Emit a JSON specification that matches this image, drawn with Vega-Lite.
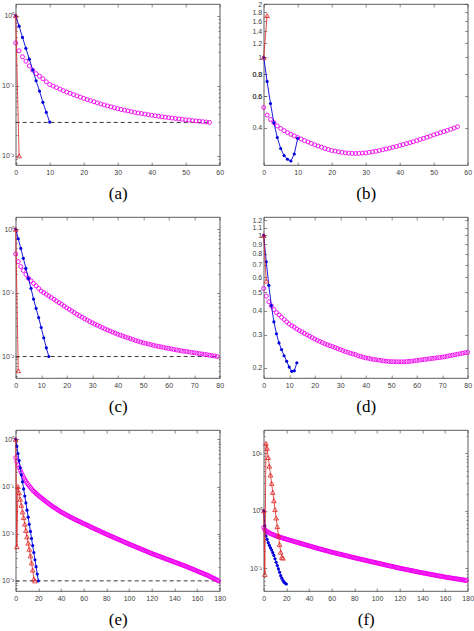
{
"$schema":"https://vega.github.io/schema/vega-lite/v6.json",
"autosize":{"type":"none"},
"padding":{"left":15.7,"top":4,"right":458.3,"bottom":627},
"background":"white",
"config":{"view":{"stroke":"#333333","strokeWidth":0.8},
 "axis":{"labelFont":"Liberation Sans","labelFontSize":7,"labelColor":"#404040","tickColor":"#404040","tickWidth":0.6,"tickCount":60,"domain":false,"grid":false,"labelFlush":false,"labelOverlap":false,"titleFont":"Liberation Serif","titleFontSize":17,"titleFontWeight":"normal","titleColor":"#000000"}},
"datasets":{
"ad":[{"x":0,"x2":57,"y":0.03}],
"cd":[{"x":0,"x2":80,"y":0.01}],
"ed":[{"x":0,"x2":180,"y":0.001}],
"ar":[{"x":0,"y":1},{"x":1,"y":0.01}],
"br":[{"x":0,"y":1},{"x":1,"y":1.72}],
"cr":[{"x":0,"y":1},{"x":1,"y":0.006}],
"dr":[{"x":0,"y":1},{"x":1,"y":0.574}],
"er":[{"x":0,"y":1},{"x":1,"y":0.0053},{"x":2,"y":0.1},{"x":3,"y":0.074},{"x":4,"y":0.054},{"x":5,"y":0.04},{"x":6,"y":0.029},{"x":7,"y":0.022},{"x":8,"y":0.016},{"x":9,"y":0.0117},{"x":10,"y":0.0086},{"x":11,"y":0.0063},{"x":12,"y":0.0047},{"x":13,"y":0.0034},{"x":14,"y":0.0024},{"x":15,"y":0.0017},{"x":16,"y":0.0011},{"x":17,"y":0.001}],
"fr":[{"x":0,"y":1},{"x":1,"y":0.078},{"x":2,"y":15},{"x":3,"y":12.3},{"x":4,"y":8.5},{"x":5,"y":6.0},{"x":6,"y":4.2},{"x":7,"y":3.0},{"x":8,"y":2.1},{"x":9,"y":1.5},{"x":10,"y":1.05},{"x":11,"y":0.75},{"x":12,"y":0.53},{"x":13,"y":0.37},{"x":14,"y":0.26},{"x":15,"y":0.19},{"x":16,"y":0.155},{"x":17,"y":0.15}],
"ab":[{"x":0,"y":1},{"x":1,"y":0.71},{"x":2,"y":0.49},{"x":3,"y":0.342},{"x":4,"y":0.24},{"x":5,"y":0.168},{"x":6,"y":0.118},{"x":7,"y":0.084},{"x":8,"y":0.058},{"x":9,"y":0.0417},{"x":10,"y":0.0303}],
"bb":[{"x":0,"y":1},{"x":1,"y":0.73},{"x":2,"y":0.547},{"x":3,"y":0.426},{"x":4,"y":0.352},{"x":5,"y":0.305},{"x":6,"y":0.278},{"x":7,"y":0.265},{"x":8,"y":0.259},{"x":9,"y":0.284},{"x":10,"y":0.348}],
"cb":[{"x":0,"y":1},{"x":1,"y":0.71},{"x":2,"y":0.5},{"x":3,"y":0.35},{"x":4,"y":0.243},{"x":5,"y":0.169},{"x":6,"y":0.118},{"x":7,"y":0.08},{"x":8,"y":0.057},{"x":9,"y":0.041},{"x":10,"y":0.0286},{"x":11,"y":0.0197},{"x":12,"y":0.0137},{"x":13,"y":0.01}],
"db":[{"x":0,"y":1},{"x":1,"y":0.726},{"x":2,"y":0.545},{"x":3,"y":0.427},{"x":4,"y":0.35},{"x":5,"y":0.303},{"x":6,"y":0.271},{"x":7,"y":0.25},{"x":8,"y":0.232},{"x":9,"y":0.217},{"x":10,"y":0.202},{"x":11,"y":0.192},{"x":12,"y":0.193},{"x":13,"y":0.213}],
"eb":[{"x":0,"y":1},{"x":1,"y":0.71},{"x":2,"y":0.5},{"x":3,"y":0.355},{"x":4,"y":0.25},{"x":5,"y":0.178},{"x":6,"y":0.126},{"x":7,"y":0.089},{"x":8,"y":0.063},{"x":9,"y":0.045},{"x":10,"y":0.0316},{"x":11,"y":0.0224},{"x":12,"y":0.0158},{"x":13,"y":0.0112},{"x":14,"y":0.0079},{"x":15,"y":0.0056},{"x":16,"y":0.004},{"x":17,"y":0.0028},{"x":18,"y":0.002},{"x":19,"y":0.0014},{"x":20,"y":0.001}],
"fb":[{"x":0,"y":1},{"x":1,"y":0.545},{"x":2,"y":0.364},{"x":3,"y":0.318},{"x":4,"y":0.278},{"x":5,"y":0.25},{"x":6,"y":0.227},{"x":7,"y":0.207},{"x":8,"y":0.186},{"x":9,"y":0.167},{"x":10,"y":0.146},{"x":11,"y":0.127},{"x":12,"y":0.111},{"x":13,"y":0.097},{"x":14,"y":0.085},{"x":15,"y":0.074},{"x":16,"y":0.067},{"x":17,"y":0.061},{"x":18,"y":0.057},{"x":19,"y":0.0546},{"x":20,"y":0.053}],
"am":[{"x":0,"y":0.41},{"x":1,"y":0.316},{"x":2,"y":0.259},{"x":3,"y":0.224},{"x":4,"y":0.192},{"x":5,"y":0.167},{"x":6,"y":0.149},{"x":7,"y":0.137},{"x":8,"y":0.126},{"x":9,"y":0.114},{"x":10,"y":0.104},{"x":11,"y":0.099},{"x":12,"y":0.0942},{"x":13,"y":0.0897},{"x":14,"y":0.0853},{"x":15,"y":0.0813},{"x":16,"y":0.078},{"x":17,"y":0.0748},{"x":18,"y":0.0718},{"x":19,"y":0.0689},{"x":20,"y":0.0661},{"x":21,"y":0.0637},{"x":22,"y":0.0614},{"x":23,"y":0.0592},{"x":24,"y":0.057},{"x":25,"y":0.055},{"x":26,"y":0.0533},{"x":27,"y":0.0516},{"x":28,"y":0.0501},{"x":29,"y":0.0486},{"x":30,"y":0.0471},{"x":31,"y":0.0459},{"x":32,"y":0.0449},{"x":33,"y":0.0438},{"x":34,"y":0.0428},{"x":35,"y":0.0417},{"x":36,"y":0.0409},{"x":37,"y":0.0402},{"x":38,"y":0.0394},{"x":39,"y":0.0387},{"x":40,"y":0.038},{"x":41,"y":0.0374},{"x":42,"y":0.0368},{"x":43,"y":0.0362},{"x":44,"y":0.0356},{"x":45,"y":0.0351},{"x":46,"y":0.0346},{"x":47,"y":0.0341},{"x":48,"y":0.0337},{"x":49,"y":0.0332},{"x":50,"y":0.0327},{"x":51,"y":0.0324},{"x":52,"y":0.0319},{"x":53,"y":0.0315},{"x":54,"y":0.0311},{"x":55,"y":0.0308},{"x":56,"y":0.0304},{"x":57,"y":0.03}],
"bm":[{"x":0,"y":0.52},{"x":1,"y":0.471},{"x":2,"y":0.445},{"x":3,"y":0.427},{"x":4,"y":0.409},{"x":5,"y":0.396},{"x":6,"y":0.385},{"x":7,"y":0.375},{"x":8,"y":0.367},{"x":9,"y":0.359},{"x":10,"y":0.352},{"x":11,"y":0.345},{"x":12,"y":0.338},{"x":13,"y":0.332},{"x":14,"y":0.326},{"x":15,"y":0.32},{"x":16,"y":0.315},{"x":17,"y":0.31},{"x":18,"y":0.305},{"x":19,"y":0.301},{"x":20,"y":0.297},{"x":21,"y":0.295},{"x":22,"y":0.292},{"x":23,"y":0.29},{"x":24,"y":0.288},{"x":25,"y":0.287},{"x":26,"y":0.286},{"x":27,"y":0.286},{"x":28,"y":0.286},{"x":29,"y":0.287},{"x":30,"y":0.288},{"x":31,"y":0.29},{"x":32,"y":0.292},{"x":33,"y":0.294},{"x":34,"y":0.297},{"x":35,"y":0.3},{"x":36,"y":0.303},{"x":37,"y":0.306},{"x":38,"y":0.31},{"x":39,"y":0.313},{"x":40,"y":0.317},{"x":41,"y":0.321},{"x":42,"y":0.325},{"x":43,"y":0.329},{"x":44,"y":0.333},{"x":45,"y":0.338},{"x":46,"y":0.343},{"x":47,"y":0.348},{"x":48,"y":0.353},{"x":49,"y":0.358},{"x":50,"y":0.364},{"x":51,"y":0.369},{"x":52,"y":0.375},{"x":53,"y":0.38},{"x":54,"y":0.386},{"x":55,"y":0.392},{"x":56,"y":0.398},{"x":57,"y":0.405}],
"cm":[{"x":0,"y":0.41},{"x":1,"y":0.31},{"x":2,"y":0.26},{"x":3,"y":0.225},{"x":4,"y":0.195},{"x":5,"y":0.17},{"x":6,"y":0.155},{"x":7,"y":0.141},{"x":8,"y":0.129},{"x":9,"y":0.1175},{"x":10,"y":0.107},{"x":11,"y":0.101},{"x":12,"y":0.0951},{"x":13,"y":0.0895},{"x":14,"y":0.0843},{"x":15,"y":0.0794},{"x":16,"y":0.0747},{"x":17,"y":0.0702},{"x":18,"y":0.0661},{"x":19,"y":0.0621},{"x":20,"y":0.0583},{"x":21,"y":0.0551},{"x":22,"y":0.052},{"x":23,"y":0.049},{"x":24,"y":0.0462},{"x":25,"y":0.0437},{"x":26,"y":0.0415},{"x":27,"y":0.0394},{"x":28,"y":0.0375},{"x":29,"y":0.0356},{"x":30,"y":0.0339},{"x":31,"y":0.0324},{"x":32,"y":0.031},{"x":33,"y":0.0297},{"x":34,"y":0.0284},{"x":35,"y":0.0272},{"x":36,"y":0.0262},{"x":37,"y":0.0252},{"x":38,"y":0.0242},{"x":39,"y":0.0233},{"x":40,"y":0.0224},{"x":41,"y":0.0217},{"x":42,"y":0.021},{"x":43,"y":0.0203},{"x":44,"y":0.0197},{"x":45,"y":0.0191},{"x":46,"y":0.0185},{"x":47,"y":0.0179},{"x":48,"y":0.0174},{"x":49,"y":0.0169},{"x":50,"y":0.0164},{"x":51,"y":0.0161},{"x":52,"y":0.0157},{"x":53,"y":0.0154},{"x":54,"y":0.015},{"x":55,"y":0.0147},{"x":56,"y":0.0144},{"x":57,"y":0.0142},{"x":58,"y":0.0139},{"x":59,"y":0.0136},{"x":60,"y":0.0134},{"x":61,"y":0.0132},{"x":62,"y":0.0129},{"x":63,"y":0.0127},{"x":64,"y":0.0125},{"x":65,"y":0.0123},{"x":66,"y":0.0121},{"x":67,"y":0.012},{"x":68,"y":0.0118},{"x":69,"y":0.0116},{"x":70,"y":0.0115},{"x":71,"y":0.0113},{"x":72,"y":0.0111},{"x":73,"y":0.011},{"x":74,"y":0.0108},{"x":75,"y":0.0107},{"x":76,"y":0.0105},{"x":77,"y":0.0103},{"x":78,"y":0.0102},{"x":79,"y":0.01}],
"dm":[{"x":0,"y":0.525},{"x":1,"y":0.478},{"x":2,"y":0.447},{"x":3,"y":0.425},{"x":4,"y":0.406},{"x":5,"y":0.392},{"x":6,"y":0.381},{"x":7,"y":0.37},{"x":8,"y":0.36},{"x":9,"y":0.35},{"x":10,"y":0.341},{"x":11,"y":0.334},{"x":12,"y":0.328},{"x":13,"y":0.321},{"x":14,"y":0.315},{"x":15,"y":0.31},{"x":16,"y":0.304},{"x":17,"y":0.299},{"x":18,"y":0.294},{"x":19,"y":0.289},{"x":20,"y":0.284},{"x":21,"y":0.28},{"x":22,"y":0.276},{"x":23,"y":0.272},{"x":24,"y":0.268},{"x":25,"y":0.265},{"x":26,"y":0.262},{"x":27,"y":0.259},{"x":28,"y":0.256},{"x":29,"y":0.253},{"x":30,"y":0.25},{"x":31,"y":0.247},{"x":32,"y":0.244},{"x":33,"y":0.242},{"x":34,"y":0.239},{"x":35,"y":0.237},{"x":36,"y":0.235},{"x":37,"y":0.232},{"x":38,"y":0.23},{"x":39,"y":0.228},{"x":40,"y":0.226},{"x":41,"y":0.225},{"x":42,"y":0.223},{"x":43,"y":0.222},{"x":44,"y":0.221},{"x":45,"y":0.22},{"x":46,"y":0.219},{"x":47,"y":0.218},{"x":48,"y":0.217},{"x":49,"y":0.2165},{"x":50,"y":0.216},{"x":51,"y":0.2158},{"x":52,"y":0.2156},{"x":53,"y":0.2155},{"x":54,"y":0.2155},{"x":55,"y":0.2155},{"x":56,"y":0.216},{"x":57,"y":0.2165},{"x":58,"y":0.217},{"x":59,"y":0.218},{"x":60,"y":0.219},{"x":61,"y":0.2198},{"x":62,"y":0.2207},{"x":63,"y":0.2216},{"x":64,"y":0.2225},{"x":65,"y":0.2234},{"x":66,"y":0.2243},{"x":67,"y":0.2252},{"x":68,"y":0.2261},{"x":69,"y":0.227},{"x":70,"y":0.228},{"x":71,"y":0.2293},{"x":72,"y":0.2307},{"x":73,"y":0.232},{"x":74,"y":0.2334},{"x":75,"y":0.2348},{"x":76,"y":0.2362},{"x":77,"y":0.2376},{"x":78,"y":0.239},{"x":79,"y":0.2405},{"x":80,"y":0.242}],
"em":[{"x":0,"y":0.41},{"x":1,"y":0.34},{"x":2,"y":0.29},{"x":3,"y":0.253},{"x":4,"y":0.222},{"x":5,"y":0.196},{"x":6,"y":0.175},{"x":7,"y":0.157},{"x":8,"y":0.142},{"x":9,"y":0.129},{"x":10,"y":0.1175},{"x":11,"y":0.1096},{"x":12,"y":0.1023},{"x":13,"y":0.0955},{"x":14,"y":0.0891},{"x":15,"y":0.0832},{"x":16,"y":0.0791},{"x":17,"y":0.0752},{"x":18,"y":0.0715},{"x":19,"y":0.0679},{"x":20,"y":0.0646},{"x":21,"y":0.0618},{"x":22,"y":0.0592},{"x":23,"y":0.0566},{"x":24,"y":0.0542},{"x":25,"y":0.0519},{"x":26,"y":0.0497},{"x":27,"y":0.0475},{"x":28,"y":0.0455},{"x":29,"y":0.0436},{"x":30,"y":0.0417},{"x":31,"y":0.0402},{"x":32,"y":0.0387},{"x":33,"y":0.0373},{"x":34,"y":0.036},{"x":35,"y":0.0347},{"x":36,"y":0.0334},{"x":37,"y":0.0322},{"x":38,"y":0.031},{"x":39,"y":0.0299},{"x":40,"y":0.0288},{"x":41,"y":0.028},{"x":42,"y":0.0272},{"x":43,"y":0.0264},{"x":44,"y":0.0256},{"x":45,"y":0.0248},{"x":46,"y":0.0241},{"x":47,"y":0.0234},{"x":48,"y":0.0227},{"x":49,"y":0.022},{"x":50,"y":0.0214},{"x":51,"y":0.0208},{"x":52,"y":0.0203},{"x":53,"y":0.0197},{"x":54,"y":0.0192},{"x":55,"y":0.0187},{"x":56,"y":0.0182},{"x":57,"y":0.0178},{"x":58,"y":0.0173},{"x":59,"y":0.0168},{"x":60,"y":0.0164},{"x":61,"y":0.016},{"x":62,"y":0.0156},{"x":63,"y":0.0152},{"x":64,"y":0.0148},{"x":65,"y":0.0144},{"x":66,"y":0.014},{"x":67,"y":0.0136},{"x":68,"y":0.0133},{"x":69,"y":0.0129},{"x":70,"y":0.0126},{"x":71,"y":0.0123},{"x":72,"y":0.012},{"x":73,"y":0.0117},{"x":74,"y":0.0114},{"x":75,"y":0.0111},{"x":76,"y":0.0108},{"x":77,"y":0.0105},{"x":78,"y":0.0103},{"x":79,"y":0.01},{"x":80,"y":0.0098},{"x":81,"y":0.00954},{"x":82,"y":0.00931},{"x":83,"y":0.00909},{"x":84,"y":0.00887},{"x":85,"y":0.00866},{"x":86,"y":0.00845},{"x":87,"y":0.00825},{"x":88,"y":0.00805},{"x":89,"y":0.00786},{"x":90,"y":0.00767},{"x":91,"y":0.00749},{"x":92,"y":0.00731},{"x":93,"y":0.00714},{"x":94,"y":0.00697},{"x":95,"y":0.0068},{"x":96,"y":0.00664},{"x":97,"y":0.00648},{"x":98,"y":0.00632},{"x":99,"y":0.00617},{"x":100,"y":0.00603},{"x":101,"y":0.00589},{"x":102,"y":0.00575},{"x":103,"y":0.00562},{"x":104,"y":0.0055},{"x":105,"y":0.00537},{"x":106,"y":0.00525},{"x":107,"y":0.00513},{"x":108,"y":0.00501},{"x":109,"y":0.0049},{"x":110,"y":0.00479},{"x":111,"y":0.00468},{"x":112,"y":0.00457},{"x":113,"y":0.00447},{"x":114,"y":0.00437},{"x":115,"y":0.00427},{"x":116,"y":0.00417},{"x":117,"y":0.00407},{"x":118,"y":0.00398},{"x":119,"y":0.00389},{"x":120,"y":0.0038},{"x":121,"y":0.00372},{"x":122,"y":0.00365},{"x":123,"y":0.00357},{"x":124,"y":0.0035},{"x":125,"y":0.00343},{"x":126,"y":0.00336},{"x":127,"y":0.00329},{"x":128,"y":0.00322},{"x":129,"y":0.00316},{"x":130,"y":0.00309},{"x":131,"y":0.00303},{"x":132,"y":0.00296},{"x":133,"y":0.0029},{"x":134,"y":0.00284},{"x":135,"y":0.00279},{"x":136,"y":0.00273},{"x":137,"y":0.00267},{"x":138,"y":0.00262},{"x":139,"y":0.00256},{"x":140,"y":0.00251},{"x":141,"y":0.00246},{"x":142,"y":0.00241},{"x":143,"y":0.00236},{"x":144,"y":0.00231},{"x":145,"y":0.00226},{"x":146,"y":0.00222},{"x":147,"y":0.00217},{"x":148,"y":0.00213},{"x":149,"y":0.00208},{"x":150,"y":0.00204},{"x":151,"y":0.002},{"x":152,"y":0.00195},{"x":153,"y":0.00191},{"x":154,"y":0.00186},{"x":155,"y":0.00182},{"x":156,"y":0.00178},{"x":157,"y":0.00174},{"x":158,"y":0.0017},{"x":159,"y":0.00166},{"x":160,"y":0.00162},{"x":161,"y":0.00158},{"x":162,"y":0.00155},{"x":163,"y":0.00151},{"x":164,"y":0.00148},{"x":165,"y":0.00145},{"x":166,"y":0.00141},{"x":167,"y":0.00138},{"x":168,"y":0.00135},{"x":169,"y":0.00132},{"x":170,"y":0.00129},{"x":171,"y":0.00125},{"x":172,"y":0.00122},{"x":173,"y":0.00118},{"x":174,"y":0.00115},{"x":175,"y":0.00112},{"x":176,"y":0.00109},{"x":177,"y":0.00106},{"x":178,"y":0.00103},{"x":179,"y":0.001}],
"fm":[{"x":0,"y":0.51},{"x":1,"y":0.47},{"x":2,"y":0.45},{"x":3,"y":0.435},{"x":4,"y":0.422},{"x":5,"y":0.41},{"x":6,"y":0.402},{"x":7,"y":0.394},{"x":8,"y":0.385},{"x":9,"y":0.378},{"x":10,"y":0.37},{"x":11,"y":0.3645},{"x":12,"y":0.359},{"x":13,"y":0.354},{"x":14,"y":0.349},{"x":15,"y":0.344},{"x":16,"y":0.339},{"x":17,"y":0.334},{"x":18,"y":0.3294},{"x":19,"y":0.3247},{"x":20,"y":0.32},{"x":21,"y":0.3157},{"x":22,"y":0.3115},{"x":23,"y":0.3073},{"x":24,"y":0.3032},{"x":25,"y":0.2992},{"x":26,"y":0.2953},{"x":27,"y":0.2914},{"x":28,"y":0.2875},{"x":29,"y":0.2837},{"x":30,"y":0.28},{"x":31,"y":0.2763},{"x":32,"y":0.2726},{"x":33,"y":0.269},{"x":34,"y":0.2654},{"x":35,"y":0.2618},{"x":36,"y":0.2584},{"x":37,"y":0.2549},{"x":38,"y":0.2516},{"x":39,"y":0.2482},{"x":40,"y":0.245},{"x":41,"y":0.2417},{"x":42,"y":0.2386},{"x":43,"y":0.2355},{"x":44,"y":0.2324},{"x":45,"y":0.2293},{"x":46,"y":0.2263},{"x":47,"y":0.2234},{"x":48,"y":0.2205},{"x":49,"y":0.2176},{"x":50,"y":0.2148},{"x":51,"y":0.2122},{"x":52,"y":0.2097},{"x":53,"y":0.207},{"x":54,"y":0.2046},{"x":55,"y":0.2021},{"x":56,"y":0.1996},{"x":57,"y":0.1972},{"x":58,"y":0.1948},{"x":59,"y":0.1924},{"x":60,"y":0.1901},{"x":61,"y":0.188},{"x":62,"y":0.1859},{"x":63,"y":0.1838},{"x":64,"y":0.1818},{"x":65,"y":0.1798},{"x":66,"y":0.1778},{"x":67,"y":0.1758},{"x":68,"y":0.1738},{"x":69,"y":0.1719},{"x":70,"y":0.17},{"x":71,"y":0.1681},{"x":72,"y":0.1662},{"x":73,"y":0.1644},{"x":74,"y":0.1626},{"x":75,"y":0.1608},{"x":76,"y":0.159},{"x":77,"y":0.1572},{"x":78,"y":0.1555},{"x":79,"y":0.1537},{"x":80,"y":0.152},{"x":81,"y":0.1504},{"x":82,"y":0.1488},{"x":83,"y":0.1473},{"x":84,"y":0.1457},{"x":85,"y":0.1442},{"x":86,"y":0.1427},{"x":87,"y":0.1412},{"x":88,"y":0.1397},{"x":89,"y":0.1382},{"x":90,"y":0.1368},{"x":91,"y":0.1353},{"x":92,"y":0.1339},{"x":93,"y":0.1325},{"x":94,"y":0.1311},{"x":95,"y":0.1297},{"x":96,"y":0.1284},{"x":97,"y":0.127},{"x":98,"y":0.1257},{"x":99,"y":0.1244},{"x":100,"y":0.123},{"x":101,"y":0.1218},{"x":102,"y":0.1205},{"x":103,"y":0.1193},{"x":104,"y":0.118},{"x":105,"y":0.1168},{"x":106,"y":0.1156},{"x":107,"y":0.1144},{"x":108,"y":0.1132},{"x":109,"y":0.112},{"x":110,"y":0.1109},{"x":111,"y":0.1098},{"x":112,"y":0.1086},{"x":113,"y":0.1075},{"x":114,"y":0.1064},{"x":115,"y":0.1053},{"x":116,"y":0.1042},{"x":117,"y":0.1031},{"x":118,"y":0.1021},{"x":119,"y":0.101},{"x":120,"y":0.1},{"x":121,"y":0.0991},{"x":122,"y":0.0981},{"x":123,"y":0.0972},{"x":124,"y":0.0963},{"x":125,"y":0.0954},{"x":126,"y":0.0945},{"x":127,"y":0.0937},{"x":128,"y":0.0928},{"x":129,"y":0.0919},{"x":130,"y":0.0911},{"x":131,"y":0.0902},{"x":132,"y":0.0894},{"x":133,"y":0.0886},{"x":134,"y":0.0877},{"x":135,"y":0.0869},{"x":136,"y":0.0861},{"x":137,"y":0.0853},{"x":138,"y":0.0845},{"x":139,"y":0.0838},{"x":140,"y":0.083},{"x":141,"y":0.0823},{"x":142,"y":0.0816},{"x":143,"y":0.0809},{"x":144,"y":0.0802},{"x":145,"y":0.0795},{"x":146,"y":0.0788},{"x":147,"y":0.0782},{"x":148,"y":0.0775},{"x":149,"y":0.0769},{"x":150,"y":0.0762},{"x":151,"y":0.0756},{"x":152,"y":0.0749},{"x":153,"y":0.0743},{"x":154,"y":0.0737},{"x":155,"y":0.073},{"x":156,"y":0.0724},{"x":157,"y":0.0718},{"x":158,"y":0.0712},{"x":159,"y":0.0706},{"x":160,"y":0.07},{"x":161,"y":0.0695},{"x":162,"y":0.069},{"x":163,"y":0.0685},{"x":164,"y":0.068},{"x":165,"y":0.0675},{"x":166,"y":0.067},{"x":167,"y":0.0665},{"x":168,"y":0.066},{"x":169,"y":0.0656},{"x":170,"y":0.0651},{"x":171,"y":0.0646},{"x":172,"y":0.0641},{"x":173,"y":0.0637},{"x":174,"y":0.0632},{"x":175,"y":0.0627},{"x":176,"y":0.0623},{"x":177,"y":0.0618},{"x":178,"y":0.0614},{"x":179,"y":0.061}]
},
"columns":2,
"spacing":{"row":52,"column":44},
"bounds":"flush",
"concat":[
{"width":204,"height":161,"resolve":{"axis":{"x":"independent","y":"independent"}},
 "layer":[
  {"data":{"name":"ad"},"mark":{"type":"rule","color":"#222222","strokeWidth":0.9,"strokeDash":[4,3]},
   "encoding":{"x":{"field":"x","type":"quantitative","scale":{"domain":[0,60],"nice":false,"zero":false},"axis":null},"x2":{"field":"x2"},"y":{"field":"y","type":"quantitative","scale":{"type":"log","domain":[0.0074,1.47],"nice":false},"axis":null}}},
  {"data":{"name":"am"},"mark":{"type":"point","shape":"circle","filled":false,"color":"#f000f0","size":16,"strokeWidth":0.9,"opacity":1},
   "encoding":{"x":{"field":"x","type":"quantitative","scale":{"domain":[0,60],"nice":false,"zero":false},"axis":{"orient":"bottom","offset":-3,"tickSize":3,"tickCount":60,"labelPadding":3,"labelOverlap":false,"values":[0,10,20,30,40,50,60],"title":"(a)","titlePadding":10}},
    "y":{"field":"y","type":"quantitative","scale":{"type":"log","domain":[0.0074,1.47],"nice":false},"axis":{"orient":"left","offset":-3,"tickSize":3,"tickCount":60,"labelPadding":2,"labelOverlap":false,"values":[0.01,0.1,1],"labelExpr":"datum.value < 0.0015 ? '10⁻³' : datum.value < 0.015 ? '10⁻²' : datum.value < 0.15 ? '10⁻¹' : datum.value < 1.5 ? '10⁰' : '10¹'","title":null}}}},
  {"data":{"name":"ab"},"mark":{"type":"line","color":"#0000dd","strokeWidth":0.9},
   "encoding":{"x":{"field":"x","type":"quantitative","scale":{"domain":[0,60],"nice":false,"zero":false},"axis":{"orient":"top","offset":-3,"tickSize":3,"tickCount":60,"labels":false,"values":[0,10,20,30,40,50,60],"title":null}},
    "y":{"field":"y","type":"quantitative","scale":{"type":"log","domain":[0.0074,1.47],"nice":false},"axis":{"orient":"right","offset":-3,"tickSize":3,"tickCount":60,"labels":false,"values":[0.01,0.1,1],"title":null}}}},
  {"data":{"name":"ab"},"mark":{"type":"point","shape":"circle","filled":true,"color":"#0000dd","size":10,"opacity":1},
   "encoding":{"x":{"field":"x","type":"quantitative","scale":{"domain":[0,60],"nice":false,"zero":false},"axis":null},
    "y":{"field":"y","type":"quantitative","scale":{"type":"log","domain":[0.0074,1.47],"nice":false},"axis":{"orient":"left","offset":-1.5,"tickSize":1.5,"tickCount":60,"labels":false,"values":[0.008,0.009,0.02,0.03,0.04,0.05,0.06,0.07,0.08,0.09,0.2,0.3,0.4,0.5,0.6,0.7,0.8,0.9],"title":null}}}},
  {"data":{"name":"ar"},"mark":{"type":"line","color":"#e02020","strokeWidth":0.8},
   "encoding":{"x":{"field":"x","type":"quantitative","scale":{"domain":[0,60],"nice":false,"zero":false},"axis":null},
    "y":{"field":"y","type":"quantitative","scale":{"type":"log","domain":[0.0074,1.47],"nice":false},"axis":{"orient":"right","offset":-1.5,"tickSize":1.5,"tickCount":60,"labels":false,"values":[0.008,0.009,0.02,0.03,0.04,0.05,0.06,0.07,0.08,0.09,0.2,0.3,0.4,0.5,0.6,0.7,0.8,0.9],"title":null}}}},
  {"data":{"name":"ar"},"mark":{"type":"point","shape":"triangle-up","filled":false,"color":"#e02020","size":22,"strokeWidth":0.8,"opacity":1},
   "encoding":{"x":{"field":"x","type":"quantitative","scale":{"domain":[0,60],"nice":false,"zero":false},"axis":null},
    "y":{"field":"y","type":"quantitative","scale":{"type":"log","domain":[0.0074,1.47],"nice":false},"axis":null}}}
 ]},
{"width":204,"height":161,"resolve":{"axis":{"x":"independent","y":"independent"}},
 "layer":[
  {"data":{"name":"bm"},"mark":{"type":"point","shape":"circle","filled":false,"color":"#f000f0","size":16,"strokeWidth":0.9,"opacity":1},
   "encoding":{"x":{"field":"x","type":"quantitative","scale":{"domain":[0,60],"nice":false,"zero":false},"axis":{"orient":"bottom","offset":-3,"tickSize":3,"tickCount":60,"labelPadding":3,"labelOverlap":false,"values":[0,10,20,30,40,50,60],"title":"(b)","titlePadding":10}},
    "y":{"field":"y","type":"quantitative","scale":{"type":"log","domain":[0.246,2],"nice":false},"axis":{"orient":"left","offset":-3,"tickSize":3,"tickCount":60,"labelPadding":2,"labelOverlap":false,"values":[0.4,0.6,0.8,1,1.2,1.4,1.6,1.8,2],"labelExpr":"format(datum.value, '~g')","title":null}}}},
  {"data":{"name":"bb"},"mark":{"type":"line","color":"#0000dd","strokeWidth":0.9},
   "encoding":{"x":{"field":"x","type":"quantitative","scale":{"domain":[0,60],"nice":false,"zero":false},"axis":{"orient":"top","offset":-3,"tickSize":3,"tickCount":60,"labels":false,"values":[0,10,20,30,40,50,60],"title":null}},
    "y":{"field":"y","type":"quantitative","scale":{"type":"log","domain":[0.246,2],"nice":false},"axis":{"orient":"right","offset":-3,"tickSize":3,"tickCount":60,"labels":false,"values":[0.4,0.6,0.8,1,1.2,1.4,1.6,1.8,2],"title":null}}}},
  {"data":{"name":"bb"},"mark":{"type":"point","shape":"circle","filled":true,"color":"#0000dd","size":10,"opacity":1},
   "encoding":{"x":{"field":"x","type":"quantitative","scale":{"domain":[0,60],"nice":false,"zero":false},"axis":null},
    "y":{"field":"y","type":"quantitative","scale":{"type":"log","domain":[0.246,2],"nice":false},"axis":{"orient":"left","offset":-3,"tickSize":3,"tickCount":60,"labelPadding":2,"labelOverlap":false,"values":[0.6,0.8],"labelExpr":"format(datum.value, '~g')","title":null}}}},
  {"data":{"name":"br"},"mark":{"type":"line","color":"#e02020","strokeWidth":0.8},
   "encoding":{"x":{"field":"x","type":"quantitative","scale":{"domain":[0,60],"nice":false,"zero":false},"axis":null},
    "y":{"field":"y","type":"quantitative","scale":{"type":"log","domain":[0.246,2],"nice":false},"axis":null}}},
  {"data":{"name":"br"},"mark":{"type":"point","shape":"triangle-up","filled":false,"color":"#e02020","size":22,"strokeWidth":0.8,"opacity":1},
   "encoding":{"x":{"field":"x","type":"quantitative","scale":{"domain":[0,60],"nice":false,"zero":false},"axis":null},
    "y":{"field":"y","type":"quantitative","scale":{"type":"log","domain":[0.246,2],"nice":false},"axis":null}}}
 ]},
{"width":204,"height":161,"resolve":{"axis":{"x":"independent","y":"independent"}},
 "layer":[
  {"data":{"name":"cd"},"mark":{"type":"rule","color":"#222222","strokeWidth":0.9,"strokeDash":[4,3]},
   "encoding":{"x":{"field":"x","type":"quantitative","scale":{"domain":[0,80],"nice":false,"zero":false},"axis":null},"x2":{"field":"x2"},"y":{"field":"y","type":"quantitative","scale":{"type":"log","domain":[0.0046,1.56],"nice":false},"axis":null}}},
  {"data":{"name":"cm"},"mark":{"type":"point","shape":"circle","filled":false,"color":"#f000f0","size":16,"strokeWidth":0.9,"opacity":1},
   "encoding":{"x":{"field":"x","type":"quantitative","scale":{"domain":[0,80],"nice":false,"zero":false},"axis":{"orient":"bottom","offset":-3,"tickSize":3,"tickCount":60,"labelPadding":3,"labelOverlap":false,"values":[0,10,20,30,40,50,60,70,80],"title":"(c)","titlePadding":10}},
    "y":{"field":"y","type":"quantitative","scale":{"type":"log","domain":[0.0046,1.56],"nice":false},"axis":{"orient":"left","offset":-3,"tickSize":3,"tickCount":60,"labelPadding":2,"labelOverlap":false,"values":[0.01,0.1,1],"labelExpr":"datum.value < 0.0015 ? '10⁻³' : datum.value < 0.015 ? '10⁻²' : datum.value < 0.15 ? '10⁻¹' : datum.value < 1.5 ? '10⁰' : '10¹'","title":null}}}},
  {"data":{"name":"cb"},"mark":{"type":"line","color":"#0000dd","strokeWidth":0.9},
   "encoding":{"x":{"field":"x","type":"quantitative","scale":{"domain":[0,80],"nice":false,"zero":false},"axis":{"orient":"top","offset":-3,"tickSize":3,"tickCount":60,"labels":false,"values":[0,10,20,30,40,50,60,70,80],"title":null}},
    "y":{"field":"y","type":"quantitative","scale":{"type":"log","domain":[0.0046,1.56],"nice":false},"axis":{"orient":"right","offset":-3,"tickSize":3,"tickCount":60,"labels":false,"values":[0.01,0.1,1],"title":null}}}},
  {"data":{"name":"cb"},"mark":{"type":"point","shape":"circle","filled":true,"color":"#0000dd","size":10,"opacity":1},
   "encoding":{"x":{"field":"x","type":"quantitative","scale":{"domain":[0,80],"nice":false,"zero":false},"axis":null},
    "y":{"field":"y","type":"quantitative","scale":{"type":"log","domain":[0.0046,1.56],"nice":false},"axis":{"orient":"left","offset":-1.5,"tickSize":1.5,"tickCount":60,"labels":false,"values":[0.005,0.006,0.007,0.008,0.009,0.02,0.03,0.04,0.05,0.06,0.07,0.08,0.09,0.2,0.3,0.4,0.5,0.6,0.7,0.8,0.9],"title":null}}}},
  {"data":{"name":"cr"},"mark":{"type":"line","color":"#e02020","strokeWidth":0.8},
   "encoding":{"x":{"field":"x","type":"quantitative","scale":{"domain":[0,80],"nice":false,"zero":false},"axis":null},
    "y":{"field":"y","type":"quantitative","scale":{"type":"log","domain":[0.0046,1.56],"nice":false},"axis":{"orient":"right","offset":-1.5,"tickSize":1.5,"tickCount":60,"labels":false,"values":[0.005,0.006,0.007,0.008,0.009,0.02,0.03,0.04,0.05,0.06,0.07,0.08,0.09,0.2,0.3,0.4,0.5,0.6,0.7,0.8,0.9],"title":null}}}},
  {"data":{"name":"cr"},"mark":{"type":"point","shape":"triangle-up","filled":false,"color":"#e02020","size":22,"strokeWidth":0.8,"opacity":1},
   "encoding":{"x":{"field":"x","type":"quantitative","scale":{"domain":[0,80],"nice":false,"zero":false},"axis":null},
    "y":{"field":"y","type":"quantitative","scale":{"type":"log","domain":[0.0046,1.56],"nice":false},"axis":null}}}
 ]},
{"width":204,"height":161,"resolve":{"axis":{"x":"independent","y":"independent"}},
 "layer":[
  {"data":{"name":"dm"},"mark":{"type":"point","shape":"circle","filled":false,"color":"#f000f0","size":16,"strokeWidth":0.9,"opacity":1},
   "encoding":{"x":{"field":"x","type":"quantitative","scale":{"domain":[0,80],"nice":false,"zero":false},"axis":{"orient":"bottom","offset":-3,"tickSize":3,"tickCount":60,"labelPadding":3,"labelOverlap":false,"values":[0,10,20,30,40,50,60,70,80],"title":"(d)","titlePadding":10}},
    "y":{"field":"y","type":"quantitative","scale":{"type":"log","domain":[0.177,1.25],"nice":false},"axis":{"orient":"left","offset":-3,"tickSize":3,"tickCount":60,"labelPadding":2,"labelOverlap":false,"values":[0.2,0.3,0.4,0.5,0.6,0.7,0.8,0.9,1,1.1,1.2],"labelExpr":"format(datum.value, '~g')","title":null}}}},
  {"data":{"name":"db"},"mark":{"type":"line","color":"#0000dd","strokeWidth":0.9},
   "encoding":{"x":{"field":"x","type":"quantitative","scale":{"domain":[0,80],"nice":false,"zero":false},"axis":{"orient":"top","offset":-3,"tickSize":3,"tickCount":60,"labels":false,"values":[0,10,20,30,40,50,60,70,80],"title":null}},
    "y":{"field":"y","type":"quantitative","scale":{"type":"log","domain":[0.177,1.25],"nice":false},"axis":{"orient":"right","offset":-3,"tickSize":3,"tickCount":60,"labels":false,"values":[0.2,0.3,0.4,0.5,0.6,0.7,0.8,0.9,1,1.1,1.2],"title":null}}}},
  {"data":{"name":"db"},"mark":{"type":"point","shape":"circle","filled":true,"color":"#0000dd","size":10,"opacity":1},
   "encoding":{"x":{"field":"x","type":"quantitative","scale":{"domain":[0,80],"nice":false,"zero":false},"axis":null},
    "y":{"field":"y","type":"quantitative","scale":{"type":"log","domain":[0.177,1.25],"nice":false},"axis":null}}},
  {"data":{"name":"dr"},"mark":{"type":"line","color":"#e02020","strokeWidth":0.8},
   "encoding":{"x":{"field":"x","type":"quantitative","scale":{"domain":[0,80],"nice":false,"zero":false},"axis":null},
    "y":{"field":"y","type":"quantitative","scale":{"type":"log","domain":[0.177,1.25],"nice":false},"axis":null}}},
  {"data":{"name":"dr"},"mark":{"type":"point","shape":"triangle-up","filled":false,"color":"#e02020","size":22,"strokeWidth":0.8,"opacity":1},
   "encoding":{"x":{"field":"x","type":"quantitative","scale":{"domain":[0,80],"nice":false,"zero":false},"axis":null},
    "y":{"field":"y","type":"quantitative","scale":{"type":"log","domain":[0.177,1.25],"nice":false},"axis":null}}}
 ]},
{"width":204,"height":161,"resolve":{"axis":{"x":"independent","y":"independent"}},
 "layer":[
  {"data":{"name":"ed"},"mark":{"type":"rule","color":"#222222","strokeWidth":0.9,"strokeDash":[4,3]},
   "encoding":{"x":{"field":"x","type":"quantitative","scale":{"domain":[0,180],"nice":false,"zero":false},"axis":null},"x2":{"field":"x2"},"y":{"field":"y","type":"quantitative","scale":{"type":"log","domain":[0.00061,1.58],"nice":false},"axis":null}}},
  {"data":{"name":"em"},"mark":{"type":"point","shape":"circle","filled":false,"color":"#f000f0","size":16,"strokeWidth":0.9,"opacity":1},
   "encoding":{"x":{"field":"x","type":"quantitative","scale":{"domain":[0,180],"nice":false,"zero":false},"axis":{"orient":"bottom","offset":-3,"tickSize":3,"tickCount":60,"labelPadding":3,"labelOverlap":false,"values":[0,20,40,60,80,100,120,140,160,180],"title":"(e)","titlePadding":10}},
    "y":{"field":"y","type":"quantitative","scale":{"type":"log","domain":[0.00061,1.58],"nice":false},"axis":{"orient":"left","offset":-3,"tickSize":3,"tickCount":60,"labelPadding":2,"labelOverlap":false,"values":[0.001,0.01,0.1,1],"labelExpr":"datum.value < 0.0015 ? '10⁻³' : datum.value < 0.015 ? '10⁻²' : datum.value < 0.15 ? '10⁻¹' : datum.value < 1.5 ? '10⁰' : '10¹'","title":null}}}},
  {"data":{"name":"eb"},"mark":{"type":"line","color":"#0000dd","strokeWidth":0.9},
   "encoding":{"x":{"field":"x","type":"quantitative","scale":{"domain":[0,180],"nice":false,"zero":false},"axis":{"orient":"top","offset":-3,"tickSize":3,"tickCount":60,"labels":false,"values":[0,20,40,60,80,100,120,140,160,180],"title":null}},
    "y":{"field":"y","type":"quantitative","scale":{"type":"log","domain":[0.00061,1.58],"nice":false},"axis":{"orient":"right","offset":-3,"tickSize":3,"tickCount":60,"labels":false,"values":[0.001,0.01,0.1,1],"title":null}}}},
  {"data":{"name":"eb"},"mark":{"type":"point","shape":"circle","filled":true,"color":"#0000dd","size":10,"opacity":1},
   "encoding":{"x":{"field":"x","type":"quantitative","scale":{"domain":[0,180],"nice":false,"zero":false},"axis":null},
    "y":{"field":"y","type":"quantitative","scale":{"type":"log","domain":[0.00061,1.58],"nice":false},"axis":{"orient":"left","offset":-1.5,"tickSize":1.5,"tickCount":60,"labels":false,"values":[0.0007,0.0008,0.0009,0.002,0.003,0.004,0.005,0.006,0.007,0.008,0.009,0.02,0.03,0.04,0.05,0.06,0.07,0.08,0.09,0.2,0.3,0.4,0.5,0.6,0.7,0.8,0.9],"title":null}}}},
  {"data":{"name":"er"},"mark":{"type":"line","color":"#e02020","strokeWidth":0.8},
   "encoding":{"x":{"field":"x","type":"quantitative","scale":{"domain":[0,180],"nice":false,"zero":false},"axis":null},
    "y":{"field":"y","type":"quantitative","scale":{"type":"log","domain":[0.00061,1.58],"nice":false},"axis":{"orient":"right","offset":-1.5,"tickSize":1.5,"tickCount":60,"labels":false,"values":[0.0007,0.0008,0.0009,0.002,0.003,0.004,0.005,0.006,0.007,0.008,0.009,0.02,0.03,0.04,0.05,0.06,0.07,0.08,0.09,0.2,0.3,0.4,0.5,0.6,0.7,0.8,0.9],"title":null}}}},
  {"data":{"name":"er"},"mark":{"type":"point","shape":"triangle-up","filled":false,"color":"#e02020","size":22,"strokeWidth":0.8,"opacity":1},
   "encoding":{"x":{"field":"x","type":"quantitative","scale":{"domain":[0,180],"nice":false,"zero":false},"axis":null},
    "y":{"field":"y","type":"quantitative","scale":{"type":"log","domain":[0.00061,1.58],"nice":false},"axis":null}}}
 ]},
{"width":204,"height":161,"resolve":{"axis":{"x":"independent","y":"independent"}},
 "layer":[
  {"data":{"name":"fm"},"mark":{"type":"point","shape":"circle","filled":false,"color":"#f000f0","size":16,"strokeWidth":0.9,"opacity":1},
   "encoding":{"x":{"field":"x","type":"quantitative","scale":{"domain":[0,180],"nice":false,"zero":false},"axis":{"orient":"bottom","offset":-3,"tickSize":3,"tickCount":60,"labelPadding":3,"labelOverlap":false,"values":[0,20,40,60,80,100,120,140,160,180],"title":"(f)","titlePadding":10}},
    "y":{"field":"y","type":"quantitative","scale":{"type":"log","domain":[0.04,25.6],"nice":false},"axis":{"orient":"left","offset":-3,"tickSize":3,"tickCount":60,"labelPadding":2,"labelOverlap":false,"values":[0.1,1,10],"labelExpr":"datum.value < 0.0015 ? '10⁻³' : datum.value < 0.015 ? '10⁻²' : datum.value < 0.15 ? '10⁻¹' : datum.value < 1.5 ? '10⁰' : '10¹'","title":null}}}},
  {"data":{"name":"fb"},"mark":{"type":"line","color":"#0000dd","strokeWidth":0.9},
   "encoding":{"x":{"field":"x","type":"quantitative","scale":{"domain":[0,180],"nice":false,"zero":false},"axis":{"orient":"top","offset":-3,"tickSize":3,"tickCount":60,"labels":false,"values":[0,20,40,60,80,100,120,140,160,180],"title":null}},
    "y":{"field":"y","type":"quantitative","scale":{"type":"log","domain":[0.04,25.6],"nice":false},"axis":{"orient":"right","offset":-3,"tickSize":3,"tickCount":60,"labels":false,"values":[0.1,1,10],"title":null}}}},
  {"data":{"name":"fb"},"mark":{"type":"point","shape":"circle","filled":true,"color":"#0000dd","size":10,"opacity":1},
   "encoding":{"x":{"field":"x","type":"quantitative","scale":{"domain":[0,180],"nice":false,"zero":false},"axis":null},
    "y":{"field":"y","type":"quantitative","scale":{"type":"log","domain":[0.04,25.6],"nice":false},"axis":{"orient":"left","offset":-1.5,"tickSize":1.5,"tickCount":60,"labels":false,"values":[0.05,0.06,0.07,0.08,0.09,0.2,0.3,0.4,0.5,0.6,0.7,0.8,0.9,2,3,4,5,6,7,8,9,20],"title":null}}}},
  {"data":{"name":"fr"},"mark":{"type":"line","color":"#e02020","strokeWidth":0.8},
   "encoding":{"x":{"field":"x","type":"quantitative","scale":{"domain":[0,180],"nice":false,"zero":false},"axis":null},
    "y":{"field":"y","type":"quantitative","scale":{"type":"log","domain":[0.04,25.6],"nice":false},"axis":{"orient":"right","offset":-1.5,"tickSize":1.5,"tickCount":60,"labels":false,"values":[0.05,0.06,0.07,0.08,0.09,0.2,0.3,0.4,0.5,0.6,0.7,0.8,0.9,2,3,4,5,6,7,8,9,20],"title":null}}}},
  {"data":{"name":"fr"},"mark":{"type":"point","shape":"triangle-up","filled":false,"color":"#e02020","size":22,"strokeWidth":0.8,"opacity":1},
   "encoding":{"x":{"field":"x","type":"quantitative","scale":{"domain":[0,180],"nice":false,"zero":false},"axis":null},
    "y":{"field":"y","type":"quantitative","scale":{"type":"log","domain":[0.04,25.6],"nice":false},"axis":null}}}
 ]}
]
}
